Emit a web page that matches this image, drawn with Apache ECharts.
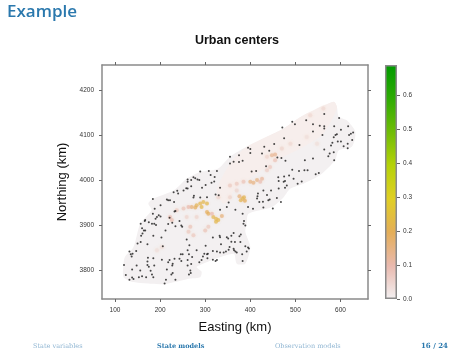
<!DOCTYPE html>
<html><head><meta charset="utf-8">
<style>html,body{margin:0;padding:0;background:#fff}#c{width:474px;height:355px}</style>
<script src="https://cdn.jsdelivr.net/npm/echarts@6/dist/echarts.min.js"></script>
</head><body><div id="c"></div>
<script>
const xTicks=[100,200,300,400,500,600];
const yTicks=[3800,3900,4000,4100,4200];
const scaleTicks=[0,0.1,0.2,0.3,0.4,0.5,0.6];
const colorRamp=['#f3f0f1','#e9b9ae','#e4ae58','#e0cf24','#b5d208','#6fbc06','#2eab04','#009a00'];
const regionOutline=[[119,3814],[119,3784],[141,3773],[207,3768],[233,3773],[267,3781],[289,3784],[292,3796],[281,3807],[363,3836],[370,3814],[389,3814],[400,3851],[389,3885],[392,3903],[396,3925],[448,3940],[474,3962],[489,3981],[518,3992],[555,4011],[588,4044],[596,4066],[625,4074],[633,4107],[614,4133],[596,4141],[592,4163],[585,4174],[555,4159],[518,4144],[474,4115],[429,4092],[392,4074],[355,4052],[329,4026],[289,4018],[259,4003],[230,3977],[185,3959],[174,3948],[181,3933],[156,3903],[141,3851],[122,3829]];
const paleZone=[[392,4074],[474,4115],[518,4144],[585,4174],[592,4159],[562,4103],[518,4074],[459,4044],[414,4014],[363,3977],[355,3955],[340,3948],[326,3977],[355,4037]];
const hotCells=[[281,3944,.22],[289,3948,.23],[296,3951,.23],[304,3948,.23],[292,3940,.23],[278,3939,.2],[270,3940,.17],[304,3929,.2],[307,3925,.2],[318,3918,.23],[324,3914,.23],[329,3911,.23],[324,3907,.23],[337,3920,.16],[383,3959,.23],[379,3955,.22],[386,3962,.22],[388,3954,.2],[376,3964,.16],[400,3996,.15],[407,3994,.15],[415,4000,.15],[426,4003,.12],[448,4055,.13],[455,4057,.13],[252,3937,.08],[263,3940,.1],[237,3933,.07],[226,3911,.09],[222,3918,.09],[267,3896,.08],[263,3885,.07],[274,3877,.07],[300,3888,.08],[307,3896,.07],[315,3925,.1],[329,3962,.05],[355,3988,.07],[370,3992,.07],[385,3996,.08],[422,3996,.09],[437,4022,.06],[444,4029,.07],[455,4044,.08],[437,4052,.05],[470,4070,.05],[489,4081,.04],[525,4096,.03],[548,4081,.03],[533,4144,.04],[562,4159,.04],[204,3851,.03],[193,3844,.03],[281,3918,.05],[259,3918,.05],[355,3962,.05],[370,3977,.05]];
const urbanPoints=[[120,3811],[124,3789],[132,3841],[135,3835],[137,3830],[139,3836],[147,3842],[132,3778],[138,3783],[141,3780],[138,3801],[148,3810],[156,3799],[153,3784],[160,3786],[169,3784],[173,3827],[185,3826],[172,3819],[172,3811],[175,3807],[179,3798],[187,3810],[182,3790],[185,3784],[204,3823],[218,3817],[221,3822],[228,3814],[227,3810],[215,3801],[225,3790],[228,3793],[234,3778],[213,3778],[210,3770],[232,3825],[246,3835],[250,3835],[243,3825],[247,3820],[261,3844],[264,3835],[261,3822],[261,3810],[269,3813],[271,3829],[281,3844],[267,3799],[268,3793],[264,3790],[301,3854],[298,3836],[304,3835],[306,3836],[295,3830],[292,3822],[287,3817],[305,3826],[317,3823],[323,3820],[326,3822],[317,3842],[326,3841],[333,3839],[341,3839],[346,3841],[335,3857],[317,3872],[332,3876],[333,3873],[348,3873],[351,3870],[363,3882],[358,3876],[354,3851],[352,3845],[363,3847],[364,3844],[367,3841],[370,3839],[382,3835],[383,3820],[395,3850],[389,3853],[397,3848],[392,3841],[358,3863],[366,3862],[378,3862],[379,3879],[376,3875],[385,3903],[386,3909],[389,3899],[383,3925],[367,3934],[348,3940],[352,3950],[333,3934],
[184,3958],[188,3936],[201,3944],[215,3957],[218,3955],[222,3955],[231,3951],[234,3931],[232,3930],[221,3916],[197,3922],[201,3919],[193,3918],[190,3914],[184,3925],[182,3903],[187,3903],[191,3900],[167,3911],[166,3909],[175,3906],[157,3903],[160,3893],[164,3888],[167,3888],[161,3881],[158,3876],[150,3859],[157,3862],[172,3857],[185,3876],[203,3872],[206,3853],[212,3888],[218,3902],[227,3905],[234,3897],[243,3909],[247,3899],[259,3868],[265,3855],[249,3896],[230,3973],[238,3976],[240,3970],[252,3977],[258,3982],[261,3981],[269,3986],[261,4001],[261,3996],[274,4006],[278,4004],[283,4001],[287,4000],[269,4000],[289,4019],[308,4020],[312,4011],[321,4007],[326,4020],[320,3997],[314,3994],[293,3983],[301,3989],[333,3983],[275,3965],[274,3961],[289,3961],[323,3968],[330,3966],[304,3962],
[355,4052],[355,4037],[363,4041],[375,4055],[375,4040],[383,4043],[395,4072],[400,4069],[400,4060],[426,4059],[431,4074],[442,4065],[453,4080],[460,4050],[469,4049],[478,4043],[435,4031],[413,4020],[403,4019],[462,4006],[463,3998],[474,3996],[475,4008],[486,4010],[477,3998],[481,3988],[477,3983],[493,4023],[496,4003],[505,3992],[514,3997],[508,4020],[520,4022],[521,4044],[527,4022],[539,4048],[545,4013],[552,4016],[509,4078],[475,4093],[471,4117],[493,4130],[499,4124],[524,4133],[539,4124],[554,4121],[564,4147],[564,4120],[564,4115],[586,4120],[597,4138],[601,4112],[617,4120],[628,4106],[619,4100],[623,4103],[626,4089],[616,4081],[616,4071],[607,4075],[592,4102],[589,4100],[585,4095],[582,4083],[579,4077],[576,4059],[573,4053],[585,4062],[586,4044],[564,4068],[539,4108],[560,4100],[594,4086],[601,4086],[417,3970],[416,3964],[420,3951],[428,3952],[429,3939],[440,3955],[443,3957],[437,3967],[446,3977],[450,3937],[459,3960],[468,3951],[463,3981],[406,3936],[395,3940],[415,3959],[429,3977]];
const scaleMax=[0.69];

const chart=echarts.init(document.getElementById('c'),null,{renderer:'canvas'});
const frame='#8a8a8a', lab='#333';
const sans='"Liberation Sans",sans-serif', foot='"DejaVu Serif",serif';
function polygonSeries(points,fill){
  return {type:'custom',coordinateSystem:'cartesian2d',xAxisIndex:0,yAxisIndex:0,silent:true,data:[[points[0][0],points[0][1]]],
    renderItem:(p,api)=>({type:'polygon',shape:{points:points.map(q=>api.coord(q)),smooth:0.25},style:{fill:fill}})};
}
function axisBase(ticks,extra){
  return Object.assign({type:'value',gridIndex:0,splitLine:{show:false},
    axisLine:{show:true,onZero:false,lineStyle:{color:frame,width:1.5}},
    axisTick:{show:true,length:3,inside:false,customValues:ticks,lineStyle:{color:'#666',width:1}},
    axisLabel:{show:true,customValues:ticks,color:lab,fontSize:6.5,fontFamily:sans,margin:8,hideOverlap:false,formatter:v=>String(v)}},extra);
}
const xr={min:71.2,max:661}, yr={min:3735.4,max:4256};
function label(text,left,top,style,extra){return Object.assign({text,left,top,padding:0,textStyle:style},extra||{});}
chart.setOption({animation:false,
  title:[
    label('Example',7,4,{color:'#2a78ad',fontSize:17,fontWeight:600,fontFamily:'"Open Sans",sans-serif'}),
    label('Urban centers',237,34,{color:'#111',fontSize:12.5,fontWeight:'bold',fontFamily:sans},{textAlign:'center'}),
    label('State variables',33,343,{color:'#8fb5d2',fontSize:6.5,fontWeight:'normal',fontFamily:foot}),
    label('State models',157,343,{color:'#2a78ad',fontSize:6.5,fontWeight:'bold',fontFamily:foot}),
    label('Observation models',275,343,{color:'#8fb5d2',fontSize:6.5,fontWeight:'normal',fontFamily:foot}),
    label('16 / 24',421,343,{color:'#2a78ad',fontSize:7,fontWeight:'bold',fontFamily:foot})
  ],
  grid:[{left:102,top:65,width:266,height:234},{left:385,top:65,width:12,height:234}],
  xAxis:[
    axisBase(xTicks,Object.assign({position:'bottom',name:'Easting (km)',nameLocation:'middle',nameGap:22,nameTextStyle:{color:'#111',fontSize:13,fontFamily:sans}},xr)),
    axisBase(xTicks,Object.assign({position:'top',axisLabel:{show:false,customValues:xTicks}},xr)),
    {type:'category',gridIndex:1,data:['x'],show:false}
  ],
  yAxis:[
    axisBase(yTicks,Object.assign({position:'left',name:'Northing (km)',nameLocation:'middle',nameGap:20,nameRotate:90,nameTextStyle:{color:'#111',fontSize:13,fontFamily:sans}},yr)),
    axisBase(yTicks,Object.assign({position:'right',axisLabel:{show:false,customValues:yTicks}},yr)),
    {type:'value',gridIndex:1,position:'right',min:0,max:0.69,splitLine:{show:false},
      axisLine:{show:false},
      axisTick:{show:true,length:3,customValues:scaleTicks,lineStyle:{color:'#666'}},
      axisLabel:{show:true,customValues:scaleTicks,color:lab,fontSize:6.5,fontFamily:sans,margin:6,formatter:v=>v.toFixed(1)}}
  ],
  visualMap:{show:false,type:'continuous',seriesIndex:[2],dimension:2,min:0,max:0.7,inRange:{color:colorRamp}},
  series:[
    polygonSeries(regionOutline,colorRamp[0]),
    polygonSeries(paleZone,'#f7eeec'),
    {type:'scatter',silent:true,xAxisIndex:0,yAxisIndex:0,data:hotCells,symbol:'circle',symbolSize:4,
      itemStyle:{opacity:0.7,shadowBlur:3,shadowColor:'rgba(235,190,160,0.5)'}},
    {type:'scatter',silent:true,xAxisIndex:0,yAxisIndex:0,data:urbanPoints,symbol:'circle',symbolSize:2,
      itemStyle:{color:'#1a1a1a'}},
    {type:'bar',silent:true,xAxisIndex:2,yAxisIndex:2,data:scaleMax,barWidth:'100%',
      itemStyle:{borderColor:frame,borderWidth:1.5,
        color:{type:'linear',x:0,y:1,x2:0,y2:0,colorStops:colorRamp.map((c,i)=>({offset:i/(colorRamp.length-1),color:c}))}}}
  ]
});
</script></body></html>
